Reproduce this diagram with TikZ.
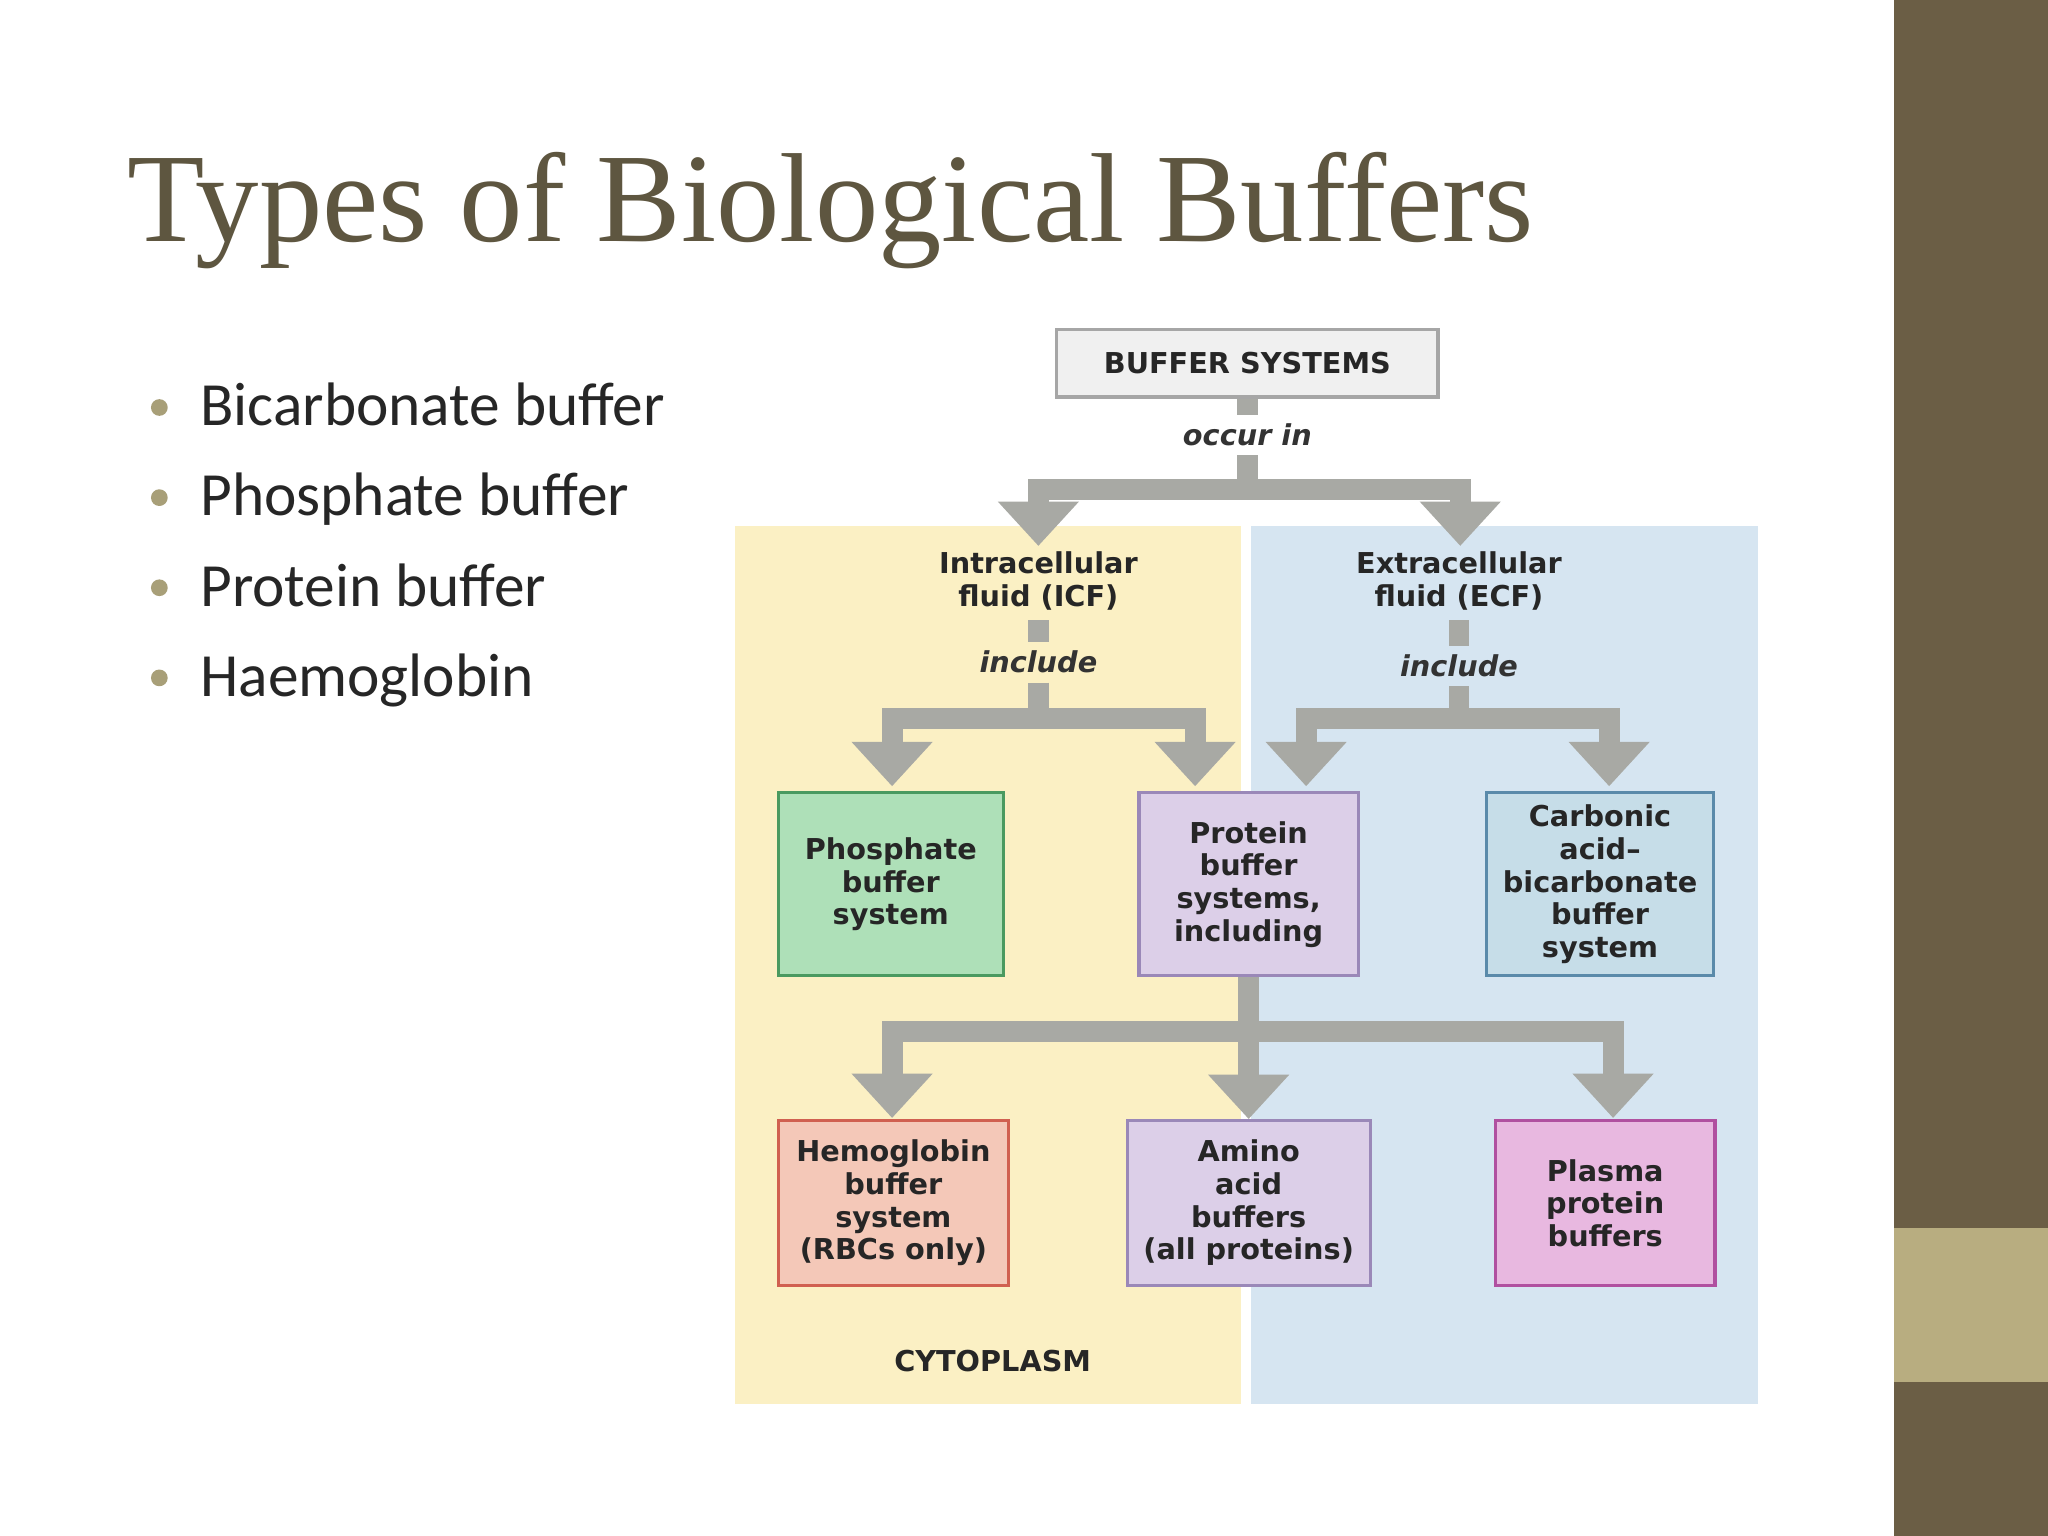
\documentclass[tikz,border=0pt]{standalone}
\usepackage{fontspec}
\setmainfont{Liberation Serif}
\newfontfamily\bul{Carlito}
\newfontfamily\dg{DejaVu Sans}
\usetikzlibrary{arrows.meta}
\definecolor{titlec}{HTML}{5E5640}
\definecolor{side}{HTML}{6B5E45}
\definecolor{sidel}{HTML}{B8AD80}
\definecolor{bulc}{HTML}{A89F78}
\definecolor{yel}{HTML}{FBF0C4}
\definecolor{blu}{HTML}{D6E5F1}
\definecolor{arr}{HTML}{A8A9A4}
\begin{document}
\begin{tikzpicture}[x=0.5pt,y=-0.5pt,
  lbl/.style={font=\dg\bfseries\fontsize{11}{12.5}\selectfont,align=center,text=black!85},
  itl/.style={font=\dg\bfseries\itshape\fontsize{11}{12.5}\selectfont,text=black!80},
  bx/.style={draw,line width=1.2pt,lbl,inner sep=0pt},
  conn/.style={draw=arr,line width=8pt},
  arw/.style={conn,-{Triangle[width=30pt,length=17pt]}},
  bitem/.style={anchor=base west,font=\bul\fontsize{23.5}{28}\selectfont,text=black!85}]
\fill[white] (0,0) rectangle (1568,1176);
\useasboundingbox (0,0) rectangle (1568,1176);
\fill[side] (1450,0) rectangle (1568,1176);
\fill[sidel] (1450,940) rectangle (1568,1058);
\node[anchor=base west,font=\fontsize{48.5}{54}\selectfont,text=titlec,inner sep=0pt] (title) at (97,185) {Types of Biological Buffers};
\foreach \t/\y [count=\i] in {Bicarbonate buffer/326,Phosphate buffer/395,Protein buffer/464,Haemoglobin/533}{
  \node[bitem,inner sep=0pt] (b\i) at (153,\y) {\t};
  \fill[bulc] (122,\y-14) circle (3.2pt);
}
\fill[yel] (563,403) rectangle (950,1075);
\fill[blu] (958,403) rectangle (1346,1075);
% boxes
\node[bx,draw=black!35,fill=black!6,minimum width=146pt,minimum height=26pt] (bs) at (955,278) {BUFFER SYSTEMS};
\node[itl] (occ) at (955,333) {occur in};
\node[lbl] (icf) at (795,445) {Intracellular\\fluid (ICF)};
\node[lbl] (ecf) at (1117,445) {Extracellular\\fluid (ECF)};
\node[itl] (inc1) at (795,507) {include};
\node[itl] (inc2) at (1117,510) {include};
\node[bx,draw={rgb,255:red,74;green,154;blue,96},fill={rgb,255:red,174;green,224;blue,184},minimum width=86pt,minimum height=70pt] (ph) at (682,677) {Phosphate\\buffer\\system};
\node[bx,draw={rgb,255:red,154;green,136;blue,184},fill={rgb,255:red,220;green,207;blue,232},minimum width=84pt,minimum height=70pt] (pr) at (956,677) {Protein\\buffer\\systems,\\including};
\node[bx,draw={rgb,255:red,90;green,138;blue,170},fill={rgb,255:red,198;green,221;blue,232},minimum width=87pt,minimum height=70pt] (ca) at (1225,677) {Carbonic\\acid–\\bicarbonate\\buffer\\system};
\node[bx,draw={rgb,255:red,208;green,96;blue,80},fill={rgb,255:red,244;green,200;blue,184},minimum width=88pt,minimum height=63pt] (hb) at (684,921) {Hemoglobin\\buffer\\system\\(RBCs only)};
\node[bx,draw={rgb,255:red,154;green,136;blue,184},fill={rgb,255:red,220;green,207;blue,232},minimum width=93pt,minimum height=63pt] (am) at (956,921) {Amino\\acid\\buffers\\(all proteins)};
\node[bx,draw={rgb,255:red,176;green,80;blue,160},fill={rgb,255:red,232;green,184;blue,224},minimum width=84pt,minimum height=63pt] (pl) at (1229,921) {Plasma\\protein\\buffers};
\node[lbl] (cyt) at (760,1042) {CYTOPLASM};
% connectors
\coordinate (j0) at (955,375);
\draw[conn] (bs.south) -- (occ.north);
\draw[conn] (occ.south) -- (j0);
\draw[arw] (j0) -| (795,418);
\draw[arw] (j0) -| (1118,418);
\coordinate (j1) at (795,550);
\draw[conn] (inc1.north) -- (icf.south);
\draw[conn] (inc1.south) -- (j1);
\draw[arw] (j1) -| (683,602);
\draw[arw] (j1) -| (915,602);
\coordinate (j2) at (1117,550);
\draw[conn] (inc2.north) -- (ecf.south);
\draw[conn] (inc2.south) -- (j2);
\draw[arw] (j2) -| (1000,602);
\draw[arw] (j2) -| (1232,602);
\coordinate (j3) at (956,790);
\draw[arw] (pr.south) -- (am.north);
\draw[arw] (j3) -| (683,856);
\draw[arw] (j3) -| (1235,856);
\end{tikzpicture}
\end{document}
